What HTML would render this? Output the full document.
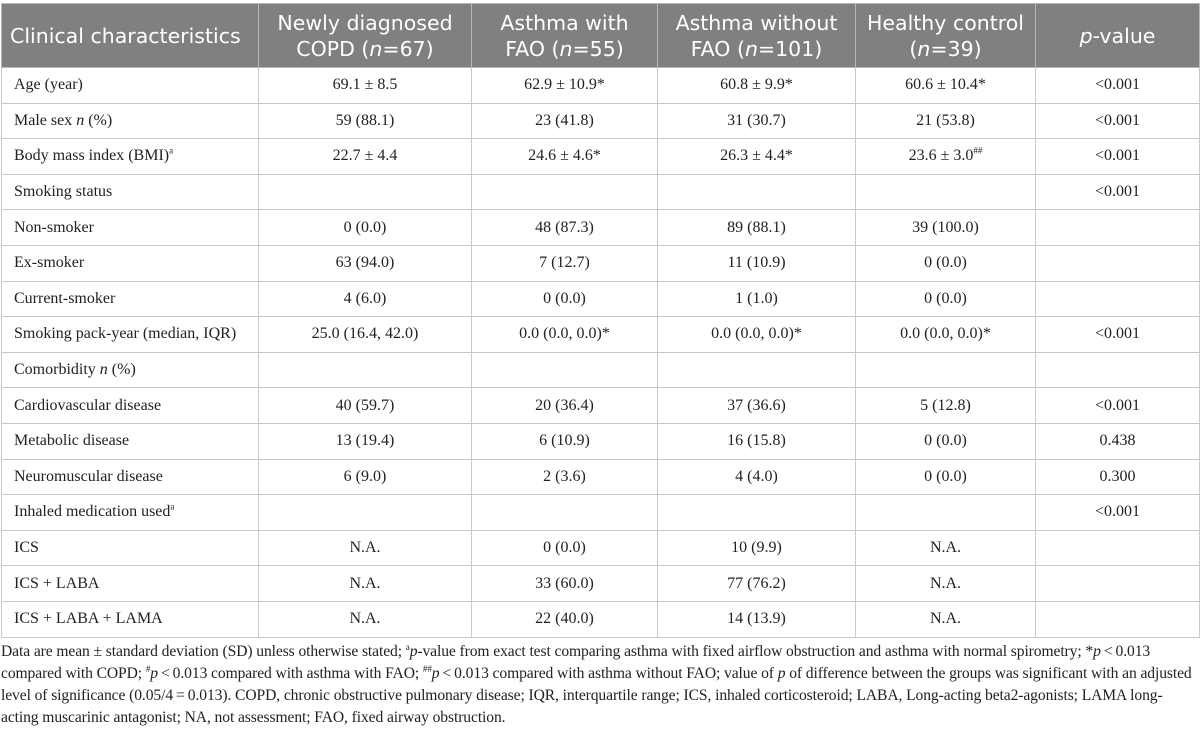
<!DOCTYPE html>
<html><head><meta charset="utf-8"><style>
body{margin:0;background:#fff;width:1200px;height:733px;overflow:hidden;font-family:"Liberation Serif",serif;color:#222}
table{position:absolute;left:1px;top:3px;border-collapse:collapse;width:1198px;table-layout:fixed}
th{background:#808080;color:#fff;font-family:"DejaVu Sans","Liberation Sans",sans-serif;font-weight:normal;font-size:20.5px;line-height:26px;height:63px;padding:0 8px;border:1px solid #b8b8b8;text-align:center;vertical-align:middle}
th:first-child{text-align:left}
td{border:1px solid #c8c8c8;height:34.6px;padding:0 12px;font-size:16px;text-align:center;vertical-align:middle}
td:first-child{text-align:left}
sup{font-size:9px;line-height:0}
.fn{position:absolute;left:1px;top:641px;width:1198px;font-size:15.6px;line-height:22px;letter-spacing:-0.1px}
</style></head><body>
<table>
<colgroup><col style="width:257px"><col style="width:213px"><col style="width:186px"><col style="width:198px"><col style="width:180px"><col style="width:164px"></colgroup>
<tr><th>Clinical characteristics</th><th>Newly diagnosed COPD (<i>n</i>=67)</th><th>Asthma with FAO (<i>n</i>=55)</th><th>Asthma without FAO (<i>n</i>=101)</th><th>Healthy control (<i>n</i>=39)</th><th><i>p</i>-value</th></tr>
<tr><td>Age (year)</td><td>69.1 ± 8.5</td><td>62.9 ± 10.9*</td><td>60.8 ± 9.9*</td><td>60.6 ± 10.4*</td><td>&lt;0.001</td></tr>
<tr><td>Male sex <i>n</i> (%)</td><td>59 (88.1)</td><td>23 (41.8)</td><td>31 (30.7)</td><td>21 (53.8)</td><td>&lt;0.001</td></tr>
<tr><td>Body mass index (BMI)<sup>a</sup></td><td>22.7 ± 4.4</td><td>24.6 ± 4.6*</td><td>26.3 ± 4.4*</td><td>23.6 ± 3.0<sup>##</sup></td><td>&lt;0.001</td></tr>
<tr><td>Smoking status</td><td></td><td></td><td></td><td></td><td>&lt;0.001</td></tr>
<tr><td>Non-smoker</td><td>0 (0.0)</td><td>48 (87.3)</td><td>89 (88.1)</td><td>39 (100.0)</td><td></td></tr>
<tr><td>Ex-smoker</td><td>63 (94.0)</td><td>7 (12.7)</td><td>11 (10.9)</td><td>0 (0.0)</td><td></td></tr>
<tr><td>Current-smoker</td><td>4 (6.0)</td><td>0 (0.0)</td><td>1 (1.0)</td><td>0 (0.0)</td><td></td></tr>
<tr><td>Smoking pack-year (median, IQR)</td><td>25.0 (16.4, 42.0)</td><td>0.0 (0.0, 0.0)*</td><td>0.0 (0.0, 0.0)*</td><td>0.0 (0.0, 0.0)*</td><td>&lt;0.001</td></tr>
<tr><td>Comorbidity <i>n</i> (%)</td><td></td><td></td><td></td><td></td><td></td></tr>
<tr><td>Cardiovascular disease</td><td>40 (59.7)</td><td>20 (36.4)</td><td>37 (36.6)</td><td>5 (12.8)</td><td>&lt;0.001</td></tr>
<tr><td>Metabolic disease</td><td>13 (19.4)</td><td>6 (10.9)</td><td>16 (15.8)</td><td>0 (0.0)</td><td>0.438</td></tr>
<tr><td>Neuromuscular disease</td><td>6 (9.0)</td><td>2 (3.6)</td><td>4 (4.0)</td><td>0 (0.0)</td><td>0.300</td></tr>
<tr><td>Inhaled medication used<sup>a</sup></td><td></td><td></td><td></td><td></td><td>&lt;0.001</td></tr>
<tr><td>ICS</td><td>N.A.</td><td>0 (0.0)</td><td>10 (9.9)</td><td>N.A.</td><td></td></tr>
<tr><td>ICS + LABA</td><td>N.A.</td><td>33 (60.0)</td><td>77 (76.2)</td><td>N.A.</td><td></td></tr>
<tr><td>ICS + LABA + LAMA</td><td>N.A.</td><td>22 (40.0)</td><td>14 (13.9)</td><td>N.A.</td><td></td></tr>
</table>
<div class="fn">Data are mean ± standard deviation (SD) unless otherwise stated; <sup>a</sup><i>p</i>-value from exact test comparing asthma with fixed airflow obstruction and asthma with normal spirometry; *<i>p</i>&thinsp;&lt;&thinsp;0.013 compared with COPD; <sup>#</sup><i>p</i>&thinsp;&lt;&thinsp;0.013 compared with asthma with FAO; <sup>##</sup><i>p</i>&thinsp;&lt;&thinsp;0.013 compared with asthma without FAO; value of <i>p</i> of difference between the groups was significant with an adjusted level of significance (0.05/4&thinsp;=&thinsp;0.013). COPD, chronic obstructive pulmonary disease; IQR, interquartile range; ICS, inhaled corticosteroid; LABA, Long-acting beta2-agonists; LAMA long-acting muscarinic antagonist; NA, not assessment; FAO, fixed airway obstruction.</div>
</body></html>
